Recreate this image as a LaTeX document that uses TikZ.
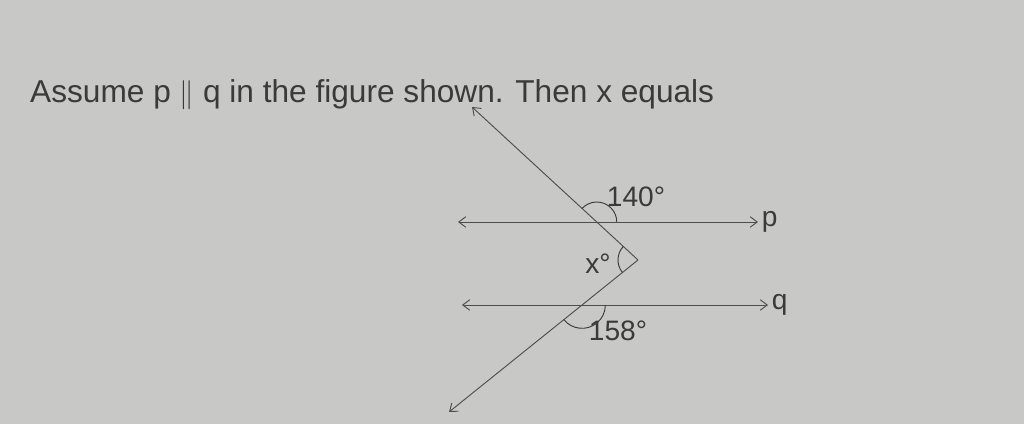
\documentclass[tikz,border=0pt]{standalone}
\usepackage{fontspec}
\setmainfont{Liberation Sans}
\usepackage{tikz}
\usetikzlibrary{arrows.meta,angles,positioning}
\definecolor{paper}{HTML}{C8C8C6}
\definecolor{ink}{HTML}{3A3A3A}
\newcommand{\anglemark}[2]{
    \pic[draw=ink, line width=0.8pt, angle radius=#2] {angle=#1};
}
\tikzset{
    line/.style={draw=ink!90, line width=0.8pt},
    both/.style={line, {Straight Barb[length=6pt,width=9pt]}-{Straight Barb[length=6pt,width=9pt]}},
    ray/.style={line, -{Straight Barb[length=6pt,width=9pt]}},
    lbl/.style={text=ink, font=\fontsize{24}{24}\selectfont, inner sep=0pt},
}

\begin{document}
\begin{tikzpicture}[x=0.03cm, y=0.03cm]
        \fill[paper] (0,0) rectangle (1024,424);
        \useasboundingbox (0,0) rectangle (1024,424);
        \coordinate (pL) at (458,202);
        \coordinate (pR) at (758,202);
        \coordinate (qL) at (462,119);
        \coordinate (qR) at (768,119);
        \coordinate (tA) at (472,317);
        \coordinate (vx) at (638,164);
        \coordinate (bA) at (449,12);
        \coordinate (ip) at (intersection of tA--vx and pL--pR);
        \coordinate (iq) at (intersection of bA--vx and qL--qR);
        \node[lbl, anchor=base west, font=\fontsize{27}{27}\selectfont] (title) at (30,321)
            {Assume p $\parallel$ q in the figure shown. Then x equals};
        \draw[both] (pL) -- (pR);
        \draw[both] (qL) -- (qR);
        \draw[ray] (vx) -- (tA);
        \draw[ray] (vx) -- (bA);
        \anglemark{pR--ip--tA}{0.6cm}
        \anglemark{tA--vx--bA}{0.6cm}
        \anglemark{bA--iq--qR}{0.7cm}
        \node[lbl, right=3pt of pR] (plbl) {p};
        \node[lbl, right=3pt of qR] (qlbl) {q};
        \node[lbl] (top) at (636,227) {140°};
        \node[lbl] (mid) at (598,160) {x°};
        \node[lbl] (bot) at (618,93) {158°};
\end{tikzpicture}
\end{document}
